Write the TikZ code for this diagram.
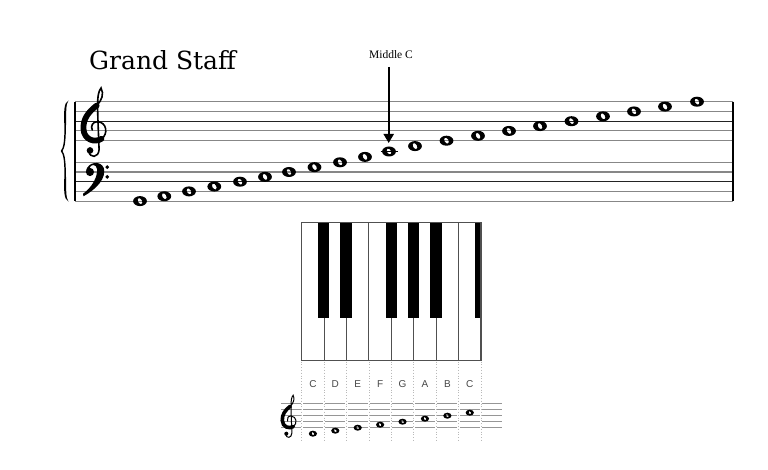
\documentclass[tikz,border=0pt]{standalone}
\usepackage{fontspec}
\newfontfamily\timesf{Liberation Serif}
\newfontfamily\arialf{Liberation Sans}
\newfontfamily\titlef{DejaVu Serif}
\usetikzlibrary{arrows.meta}
\definecolor{staffgray}{RGB}{135,135,135}
\definecolor{staffdark}{RGB}{35,35,35}
\definecolor{keyline}{RGB}{80,80,80}
\definecolor{dotgray}{RGB}{185,185,185}
\definecolor{lettergray}{RGB}{70,70,70}
\definecolor{smallgray}{RGB}{150,150,150}
\tikzset{
  staffline/.style={draw=staffgray, line width=1.1pt},
  stafflinedark/.style={draw=staffdark, line width=1.1pt},
  barline/.style={draw=black, line width=1.4pt},
  keyedge/.style={draw=keyline, line width=1.1pt},
  dotline/.style={draw=dotgray, line width=0.8pt, dotted},
  smallstaff/.style={draw=smallgray, line width=0.9pt},
  letter/.style={font=\arialf\fontsize{10}{11}\selectfont, text=lettergray, inner sep=0pt},
  wnote/.pic={\fill[even odd rule] (0,0) ellipse[x radius=6.9, y radius=5] {[rotate=30] (0,0) ellipse[x radius=2.0, y radius=3.2]};},
  gclef/.pic={
    \draw[line cap=round] (0.6,-1.1) .. controls (0.7,-1.8) and (1.6,-1.8) .. (1.65,-0.9)
      .. controls (1.6,0.5) and (1.5,2.5) .. (1.5,3.6)
      .. controls (1.5,4.6) and (1.6,5.1) .. (1.85,5.4)
      .. controls (2.2,4.8) and (1.9,4.1) .. (1.4,3.6);
    \draw[line width=1.9*\pgflinewidth, line cap=round] (1.4,3.6)
      .. controls (0.5,2.9) and (0.0,2.2) .. (0.05,1.2)
      .. controls (0.1,0.1) and (1.2,-0.25) .. (1.9,0.2);
    \draw[line cap=round] (1.9,0.2) .. controls (2.6,0.65) and (2.45,1.9) .. (1.5,1.95)
      .. controls (1.0,1.97) and (0.75,1.5) .. (0.95,1.1);
    \fill (0.72,-1.0) circle (0.34);
  },
  fclef/.pic={
    \fill (0.3,3.1) .. controls (0.5,4.05) and (1.8,4.25) .. (2.15,3.4)
      .. controls (2.4,2.4) and (1.5,1.3) .. (0.05,0.5)
      -- (0.0,0.75) .. controls (1.0,1.5) and (1.5,2.5) .. (1.45,3.3)
      .. controls (1.4,3.85) and (0.75,3.85) .. (0.65,3.35) -- cycle;
    \fill (0.72,3.0) circle (0.42);
    \fill (2.5,3.5) circle (0.2);
    \fill (2.5,2.5) circle (0.2);
  }
}
\begin{document}
\begin{tikzpicture}[x=1pt,y=-1pt]
\path[use as bounding box, fill=white] (0,0) rectangle (768,470);

% title and label
\node[anchor=base west, inner sep=0pt, font=\titlef\fontsize{25}{27}\selectfont] (title) at (89,70) {Grand Staff};
\node[anchor=base, inner sep=0pt, font=\timesf\fontsize{11.5}{12}\selectfont] (mclabel) at (391,58.3) {Middle C};

% staff lines
\foreach \y in {101.7,111.45,130.95,140.7,162.3,172,191.4,201.1}
  \draw[staffline] (75,\y) -- (733,\y);
\foreach \y in {121.2,181.7}
  \draw[stafflinedark] (75,\y) -- (733,\y);
\draw[barline] (75,101.7) -- (75,201.1);
\draw[barline] (733,101.7) -- (733,201.1);

% brace
\fill (68.5,100.5) .. controls (63.5,103) and (64,112) .. (64.3,125)
  .. controls (64.6,140) and (63.5,148) .. (60.8,151)
  .. controls (63.5,154) and (64.6,162) .. (64.3,177)
  .. controls (64,190) and (63.5,199) .. (68.5,201.6)
  .. controls (65.8,198) and (66.2,190) .. (66,177)
  .. controls (65.8,163) and (65.2,155) .. (62.6,151)
  .. controls (65.2,147) and (65.8,139) .. (66,125)
  .. controls (66.2,112) and (65.8,104) .. (68.5,100.5) -- cycle;

% clefs
\begin{scope}[shift={(83,140.7)}, x=9.75pt, y=9.75pt]
  \pic[line width=1.6pt] {gclef};
\end{scope}
\begin{scope}[shift={(83,201.1)}, x=9.7pt, y=9.7pt]
  \pic {fclef};
\end{scope}

% notes
\foreach \x/\y in {140/201.1,164.3/196.25,189/191.4,214.3/186.55,240/181.7,265/176.85,289/172,314.5/167.15,340/162.3,365/156.9,389/151.5,415/146.1,446.5/140.7,478/135.825,509/130.95,540/126.075,571.5/121.2,603/116.325,634/111.45,665/106.575,697/101.7}
  \pic at (\x,\y) {wnote};
\draw[line width=1.2pt] (380.5,151.5) -- (397.5,151.5);

% arrow
\coordinate (arrtop) at (388.7,67);
\coordinate (arrtip) at (388.7,143);
\draw[line width=2pt, -{Triangle[width=10pt,length=9pt]}] (arrtop) -- (arrtip);

% keyboard
\fill[white] (301.7,222.3) rectangle (481,360.7);
\foreach \k in {1,...,7}
  \draw[keyedge] ({301.7+22.41*\k},222.3) -- ({301.7+22.41*\k},360.7);
\foreach \a/\b in {317.7/329.3,340/352,385.7/397.3,407.7/419.3,430/442,475/481}
  \fill (\a,222.3) rectangle (\b,317.7);
\draw[keyedge] (301.7,222.3) rectangle (481,360.7);

% letters
\foreach \l [count=\i from 0] in {C,D,E,F,G,A,B,C}
  \node[letter] (L\i) at ({312.9+22.41*\i},383.7) {\l};

% small staff
\foreach \y in {403.7,409.7,415.7,421.7,427.7}
  \draw[smallstaff] (281,\y) -- (502,\y);
\foreach \k in {0,...,8}
  \fill[white] ({301.7+22.41*\k-1.1},401) rectangle ({301.7+22.41*\k+1.1},430);
\foreach \k in {0,...,8}
  \draw[dotline] ({301.7+22.41*\k},361.5) -- ({301.7+22.41*\k},442);
\begin{scope}[shift={(282,427.7)}, x=6pt, y=6pt]
  \pic[line width=1pt] {gclef};
\end{scope}
\foreach \y [count=\i from 0] in {433.7,430.7,427.7,424.7,421.7,418.7,415.7,412.7}
  \pic[scale=0.6] at ({312.9+22.41*\i},\y) {wnote};
\end{tikzpicture}
\end{document}
